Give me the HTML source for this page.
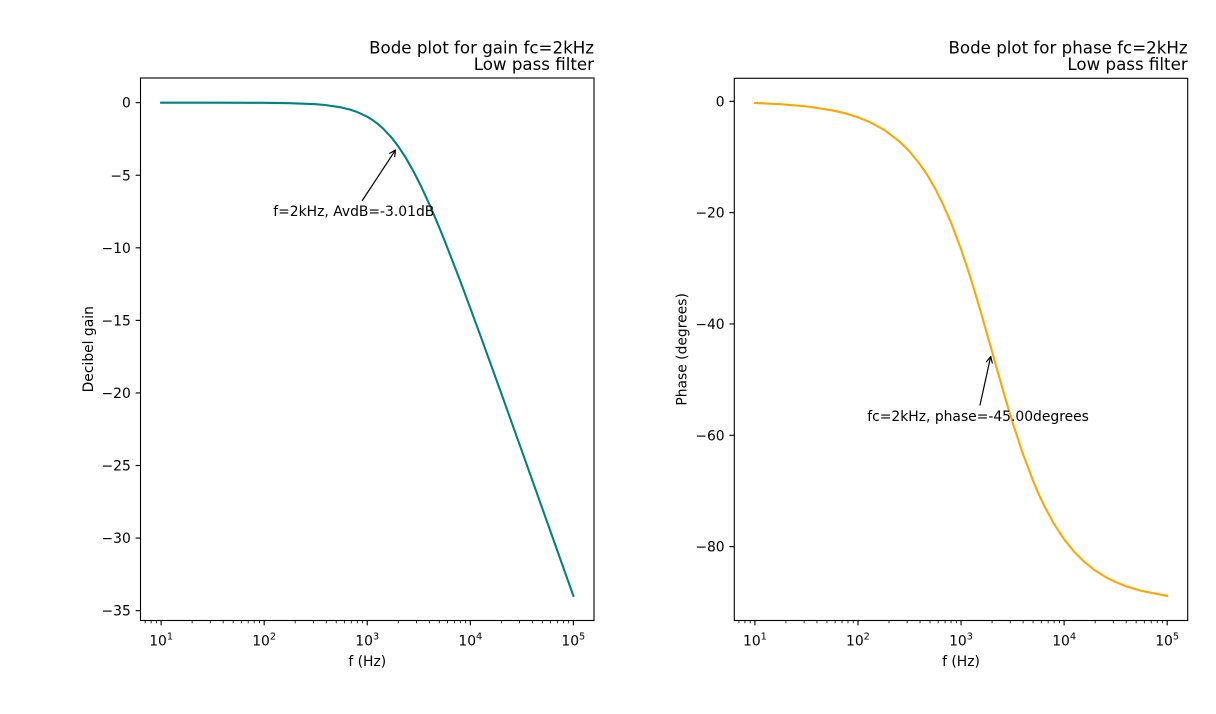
<!DOCTYPE html>
<html>
<head>
<meta charset="utf-8">
<style>
html,body{margin:0;padding:0;background:#fff;}
svg{display:block;}
text{font-family:"DejaVu Sans","Liberation Sans",sans-serif;fill:#000;}
.t{font-size:13.89px;}
.sup{font-size:9.72px;}
.ttl{font-size:16.67px;}
</style>
</head>
<body>
<svg width="1216" height="714" viewBox="0 0 1216 714" xmlns="http://www.w3.org/2000/svg">
<rect width="1216" height="714" fill="#fff"/>
<defs>
  <g id="minor">
    <line x1="31.03" y1="0" x2="31.03" y2="2.78"/>
    <line x1="49.18" y1="0" x2="49.18" y2="2.78"/>
    <line x1="62.05" y1="0" x2="62.05" y2="2.78"/>
    <line x1="72.04" y1="0" x2="72.04" y2="2.78"/>
    <line x1="80.20" y1="0" x2="80.20" y2="2.78"/>
    <line x1="87.10" y1="0" x2="87.10" y2="2.78"/>
    <line x1="93.08" y1="0" x2="93.08" y2="2.78"/>
    <line x1="98.35" y1="0" x2="98.35" y2="2.78"/>
  </g>
</defs>

<!-- ================= LEFT AXES ================= -->
<polyline fill="none" stroke="#008080" stroke-width="2.08" stroke-linejoin="round" stroke-linecap="square"
points="161.11,102.66 212.65,102.68 264.18,102.82 289.95,103.16 315.72,104.22 326.03,105.11 341.49,107.46 349.22,109.34 356.95,111.89 367.25,116.73 372.41,119.90 377.56,123.70 382.71,128.18 390.45,136.29 398.18,146.20 405.91,158.00 413.64,171.62 421.37,186.90 429.10,203.63 436.83,221.59 444.56,240.50 460.02,280.41 480.63,336.18 501.25,393.27 521.86,450.95 547.63,523.36 573.39,595.86"/>

<rect x="140.5" y="78" width="453.5" height="542.5" fill="none" stroke="#000" stroke-width="1.11"/>

<!-- y ticks -->
<g stroke="#000" stroke-width="1.11">
  <line x1="135.64" y1="102.66" x2="140.5" y2="102.66"/>
  <line x1="135.64" y1="175.23" x2="140.5" y2="175.23"/>
  <line x1="135.64" y1="247.80" x2="140.5" y2="247.80"/>
  <line x1="135.64" y1="320.37" x2="140.5" y2="320.37"/>
  <line x1="135.64" y1="392.94" x2="140.5" y2="392.94"/>
  <line x1="135.64" y1="465.51" x2="140.5" y2="465.51"/>
  <line x1="135.64" y1="538.08" x2="140.5" y2="538.08"/>
  <line x1="135.64" y1="610.65" x2="140.5" y2="610.65"/>
</g>
<g class="t" text-anchor="end">
  <text x="130.8" y="107.7">0</text>
  <text x="130.8" y="180.3">−5</text>
  <text x="130.8" y="252.8">−10</text>
  <text x="130.8" y="325.4">−15</text>
  <text x="130.8" y="398.0">−20</text>
  <text x="130.8" y="470.5">−25</text>
  <text x="130.8" y="543.1">−30</text>
  <text x="130.8" y="615.7">−35</text>
</g>

<!-- x ticks -->
<g stroke="#000" stroke-width="1.11">
  <line x1="161.11" y1="620.5" x2="161.11" y2="625.36"/>
  <line x1="264.18" y1="620.5" x2="264.18" y2="625.36"/>
  <line x1="367.25" y1="620.5" x2="367.25" y2="625.36"/>
  <line x1="470.32" y1="620.5" x2="470.32" y2="625.36"/>
  <line x1="573.39" y1="620.5" x2="573.39" y2="625.36"/>
</g>
<g stroke="#000" stroke-width="0.83">
  <line x1="145.14" y1="620.5" x2="145.14" y2="623.28"/>
  <line x1="151.12" y1="620.5" x2="151.12" y2="623.28"/>
  <line x1="156.39" y1="620.5" x2="156.39" y2="623.28"/>
  <use href="#minor" transform="translate(161.11,620.5)"/>
  <use href="#minor" transform="translate(264.18,620.5)"/>
  <use href="#minor" transform="translate(367.25,620.5)"/>
  <use href="#minor" transform="translate(470.32,620.5)"/>
</g>
<g class="t">
  <text x="149.2" y="645.5">10<tspan class="sup" dy="-6">1</tspan></text>
  <text x="252.2" y="645.5">10<tspan class="sup" dy="-6">2</tspan></text>
  <text x="355.3" y="645.5">10<tspan class="sup" dy="-6">3</tspan></text>
  <text x="458.4" y="645.5">10<tspan class="sup" dy="-6">4</tspan></text>
  <text x="561.4" y="645.5">10<tspan class="sup" dy="-6">5</tspan></text>
</g>
<text class="t" x="367.25" y="666" text-anchor="middle">f (Hz)</text>
<text class="t" text-anchor="middle" transform="translate(93,349.25) rotate(-90)">Decibel gain</text>

<text class="ttl" x="594" y="53.3" text-anchor="end">Bode plot for gain fc=2kHz</text>
<text class="ttl" x="594" y="70" text-anchor="end">Low pass filter</text>

<!-- annotation left -->
<g stroke="#000" stroke-width="1.2" fill="none" stroke-linecap="round" stroke-linejoin="round">
  <line x1="362.3" y1="200.5" x2="395.5" y2="150"/>
  <polyline points="394.7,156.7 395.5,150 389.7,153.4"/>
</g>
<text class="t" x="273.3" y="216">f=2kHz, AvdB=-3.01dB</text>

<!-- ================= RIGHT AXES ================= -->
<polyline fill="none" stroke="#FFA500" stroke-width="2.08" stroke-linejoin="round" stroke-linecap="square"
points="754.91,102.94 780.68,104.19 806.45,106.39 832.22,110.32 845.10,113.30 857.98,117.28 870.87,122.58 883.75,129.63 899.21,141.20 909.52,151.36 919.83,164.02 927.56,175.43 935.29,188.76 943.02,204.31 950.75,221.92 961.05,249.19 966.21,264.36 971.36,280.50 976.51,297.42 981.67,315.06 991.98,351.40 1002.28,387.80 1007.44,405.44 1012.59,422.42 1022.90,453.81 1033.20,481.13 1038.36,493.32 1043.51,504.34 1053.82,523.60 1064.12,539.29 1074.43,551.98 1084.74,562.22 1095.05,570.40 1105.35,576.91 1115.66,582.09 1125.97,586.24 1141.43,590.88 1167.19,595.86"/>

<rect x="734.3" y="78.3" width="453.4" height="542.2" fill="none" stroke="#000" stroke-width="1.11"/>

<g stroke="#000" stroke-width="1.11">
  <line x1="729.44" y1="101.35" x2="734.3" y2="101.35"/>
  <line x1="729.44" y1="212.66" x2="734.3" y2="212.66"/>
  <line x1="729.44" y1="323.97" x2="734.3" y2="323.97"/>
  <line x1="729.44" y1="435.27" x2="734.3" y2="435.27"/>
  <line x1="729.44" y1="546.58" x2="734.3" y2="546.58"/>
</g>
<g class="t" text-anchor="end">
  <text x="724.6" y="106.4">0</text>
  <text x="724.6" y="217.7">−20</text>
  <text x="724.6" y="329.0">−40</text>
  <text x="724.6" y="440.3">−60</text>
  <text x="724.6" y="551.6">−80</text>
</g>

<g stroke="#000" stroke-width="1.11">
  <line x1="754.91" y1="620.5" x2="754.91" y2="625.36"/>
  <line x1="857.98" y1="620.5" x2="857.98" y2="625.36"/>
  <line x1="961.05" y1="620.5" x2="961.05" y2="625.36"/>
  <line x1="1064.12" y1="620.5" x2="1064.12" y2="625.36"/>
  <line x1="1167.19" y1="620.5" x2="1167.19" y2="625.36"/>
</g>
<g stroke="#000" stroke-width="0.83">
  <line x1="738.94" y1="620.5" x2="738.94" y2="623.28"/>
  <line x1="744.92" y1="620.5" x2="744.92" y2="623.28"/>
  <line x1="750.19" y1="620.5" x2="750.19" y2="623.28"/>
  <use href="#minor" transform="translate(754.91,620.5)"/>
  <use href="#minor" transform="translate(857.98,620.5)"/>
  <use href="#minor" transform="translate(961.05,620.5)"/>
  <use href="#minor" transform="translate(1064.12,620.5)"/>
</g>
<g class="t">
  <text x="743.0" y="645.5">10<tspan class="sup" dy="-6">1</tspan></text>
  <text x="846.0" y="645.5">10<tspan class="sup" dy="-6">2</tspan></text>
  <text x="949.1" y="645.5">10<tspan class="sup" dy="-6">3</tspan></text>
  <text x="1052.2" y="645.5">10<tspan class="sup" dy="-6">4</tspan></text>
  <text x="1155.2" y="645.5">10<tspan class="sup" dy="-6">5</tspan></text>
</g>
<text class="t" x="961" y="666" text-anchor="middle">f (Hz)</text>
<text class="t" text-anchor="middle" transform="translate(686.4,349.4) rotate(-90)">Phase (degrees)</text>

<text class="ttl" x="1187.7" y="53.3" text-anchor="end">Bode plot for phase fc=2kHz</text>
<text class="ttl" x="1187.7" y="70" text-anchor="end">Low pass filter</text>

<!-- annotation right -->
<g stroke="#000" stroke-width="1.2" fill="none" stroke-linecap="round" stroke-linejoin="round">
  <line x1="980" y1="405" x2="990.7" y2="356.5"/>
  <polyline points="992.3,363.0 990.7,356.5 986.5,361.8"/>
</g>
<text class="t" x="867.3" y="421">fc=2kHz, phase=-45.00degrees</text>
</svg>
</body>
</html>
